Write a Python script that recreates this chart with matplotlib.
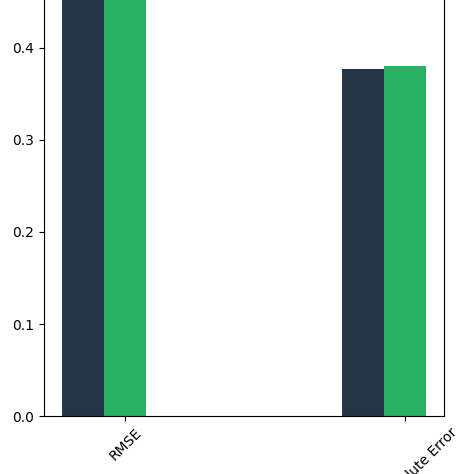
import matplotlib
matplotlib.use("Agg")
import matplotlib.pyplot as plt
import numpy as np

categories = ["RMSE", "Mean Absolute Error"]
series_a = [0.50, 0.377]
series_b = [0.50, 0.380]
series_c = [0.0, 0.0]

fig = plt.figure(figsize=(4.74, 4.74), dpi=100)
ymax = 0.55
ax = fig.add_axes([44/474, 58/474, 400/474, ymax*920/474])
x = np.arange(len(categories))
w = 0.15
ax.bar(x - w, series_a, w, color="#253746")
ax.bar(x, series_b, w, color="#2ab163")
ax.bar(x + w, series_c, w, color="#e74c3c")
ax.set_xticks(x)
ax.set_xticklabels(categories, rotation=45, ha="center")
ax.set_xlim(-0.29, 1.139)
ax.set_ylim(0, ymax)
ax.set_yticks([0, 0.1, 0.2, 0.3, 0.4, 0.5])
fig.savefig("out.png", dpi=100)
